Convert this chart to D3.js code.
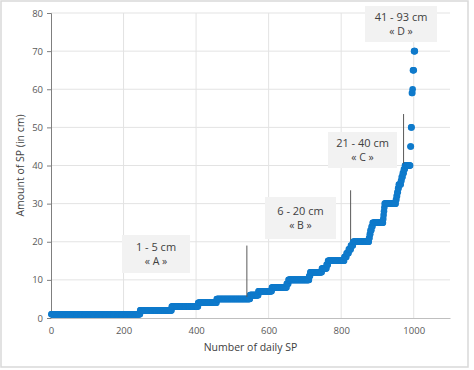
<!DOCTYPE html>
<html>
<head>
<meta charset="utf-8">
<script src="https://cdn.jsdelivr.net/npm/d3@7"></script>
<style>
  body { margin: 0; background: #fff; }
  svg { display: block; font-family: "Open Sans", "Liberation Sans", sans-serif; }
</style>
</head>
<body>
<svg id="chart" width="474" height="370"></svg>
<script>
"use strict";

// sorted SP amounts: value + last rank holding it
const levels  = [1, 2, 3, 4, 5, 6, 7, 8, 9, 10, 11, 12, 13, 14, 15, 16, 17, 18, 19, 20,
                 21, 22, 23, 24, 25, 26, 27, 28, 29, 30, 31, 32, 33, 34, 35, 36, 37, 38, 39, 40,
                 45, 50, 59, 60, 65, 70];
const runEnds = [245, 332, 405, 456, 548, 571, 608, 649, 654, 711, 714, 746, 759, 763, 808, 814, 820, 826, 832, 876,
                 878, 880, 883, 886, 915, 916, 917, 918, 919, 950, 952, 954, 956, 958, 964, 966, 969, 972, 975, 990,
                 992, 994, 996, 997, 1000, 1003];

const xTicks = [0, 200, 400, 600, 800, 1000];
const yTicks = [0, 10, 20, 30, 40, 50, 60, 70, 80];

// annotation boxes: class label, range text, leader line (data coords)
const classNames = ['A', 'B', 'C', 'D'];
const classRanges = ['1 - 5 cm', '6 - 20 cm', '21 - 40 cm', '41 - 93 cm'];
const leaderX = [540, 826, 972, null];
const leaderY = [[5.5, 19], [20.5, 33.5], [40.5, 53.5], null];

const blue = '#0f7acb';

const svg = d3.select('#chart');
const margin = { left: 51, top: 13, right: 24, bottom: 52 };
const width = 474, height = 370;

// outer frame
svg.append('rect')
  .attr('x', 1).attr('y', 1)
  .attr('width', 467).attr('height', 366)
  .attr('fill', '#fff')
  .attr('stroke', '#d9d9d9')
  .attr('stroke-width', 1.5);

const x = d3.scaleLinear().domain([0, 1100]).range([margin.left, width - margin.right]);
const y = d3.scaleLinear().domain([0, 80]).range([height - margin.bottom, margin.top]);

// gridlines
svg.append('g')
  .selectAll('line.h')
  .data(yTicks.slice(1))
  .enter().append('line')
    .attr('x1', x(0)).attr('x2', x(1100))
    .attr('y1', d => y(d)).attr('y2', d => y(d))
    .attr('stroke', '#e3e3e3');

svg.append('g')
  .selectAll('line.v')
  .data(xTicks.slice(1))
  .enter().append('line')
    .attr('x1', d => x(d)).attr('x2', d => x(d))
    .attr('y1', y(0)).attr('y2', y(80))
    .attr('stroke', '#e3e3e3');

// axes
const yAxis = svg.append('g')
  .attr('transform', `translate(${x(0)},0)`)
  .call(d3.axisLeft(y).tickValues(yTicks).tickSize(4).tickPadding(4));
yAxis.select('.domain').attr('stroke', '#7f7f7f');
yAxis.selectAll('.tick line').attr('stroke', '#7f7f7f');

const xAxis = svg.append('g')
  .attr('transform', `translate(0,${y(0)})`)
  .call(d3.axisBottom(x).tickValues(xTicks).tickFormat(d3.format('d')).tickSize(0).tickPadding(9));
xAxis.select('.domain').attr('stroke', '#bfbfbf');

svg.selectAll('.tick text')
  .attr('fill', '#595959')
  .style('font-size', '9.5px')
  .style('font-family', '"Open Sans", "Liberation Sans", sans-serif');

// axis titles
svg.append('text')
  .attr('x', x(550)).attr('y', 351)
  .attr('text-anchor', 'middle')
  .attr('fill', '#404040')
  .style('font-size', '10.5px')
  .text('Number of daily SP');

svg.append('text')
  .attr('transform', `translate(24,${y(40)}) rotate(-90)`)
  .attr('text-anchor', 'middle')
  .attr('fill', '#404040')
  .style('font-size', '10.5px')
  .text('Amount of SP (in cm)');

// expand runs into ranked points
const points = [];
let start = 0;
levels.forEach((v, k) => {
  for (let i = start; i < runEnds[k]; i++) {
    points.push({ rank: i + 1, value: v });
  }
  start = runEnds[k];
});

svg.append('g')
  .selectAll('circle')
  .data(points)
  .enter().append('circle')
    .attr('cx', d => x(d.rank))
    .attr('cy', d => y(d.value))
    .attr('r', 3.3)
    .attr('fill', blue);

// leader lines
svg.append('g')
  .selectAll('line')
  .data(classNames.map((c, i) => i).filter(i => leaderX[i] !== null))
  .enter().append('line')
    .attr('x1', i => x(leaderX[i])).attr('x2', i => x(leaderX[i]))
    .attr('y1', i => y(leaderY[i][0])).attr('y2', i => y(leaderY[i][1]))
    .attr('stroke', '#595959')
    .attr('stroke-width', 1);

// label boxes (pixel placement follows the picture)
const boxes = [
  { x: 122, y: 235, w: 68, h: 38 },
  { x: 265, y: 197, w: 71, h: 42 },
  { x: 328, y: 132, w: 69, h: 36 },
  { x: 365, y: 6, w: 72, h: 36 }
];

const lab = svg.append('g')
  .selectAll('g')
  .data(boxes)
  .enter().append('g')
    .attr('transform', d => `translate(${d.x},${d.y})`);

lab.append('rect')
  .attr('width', d => d.w)
  .attr('height', d => d.h)
  .attr('fill', '#f2f2f2');

lab.append('text')
  .attr('x', d => d.w / 2)
  .attr('y', d => d.h / 2 - 3)
  .attr('text-anchor', 'middle')
  .attr('fill', '#404040')
  .style('font-size', '11px')
  .text((d, i) => classRanges[i]);

lab.append('text')
  .attr('x', d => d.w / 2)
  .attr('y', d => d.h / 2 + 11)
  .attr('text-anchor', 'middle')
  .attr('fill', '#404040')
  .style('font-size', '10.5px')
  .text((d, i) => `« ${classNames[i]} »`);
</script>
</body>
</html>
